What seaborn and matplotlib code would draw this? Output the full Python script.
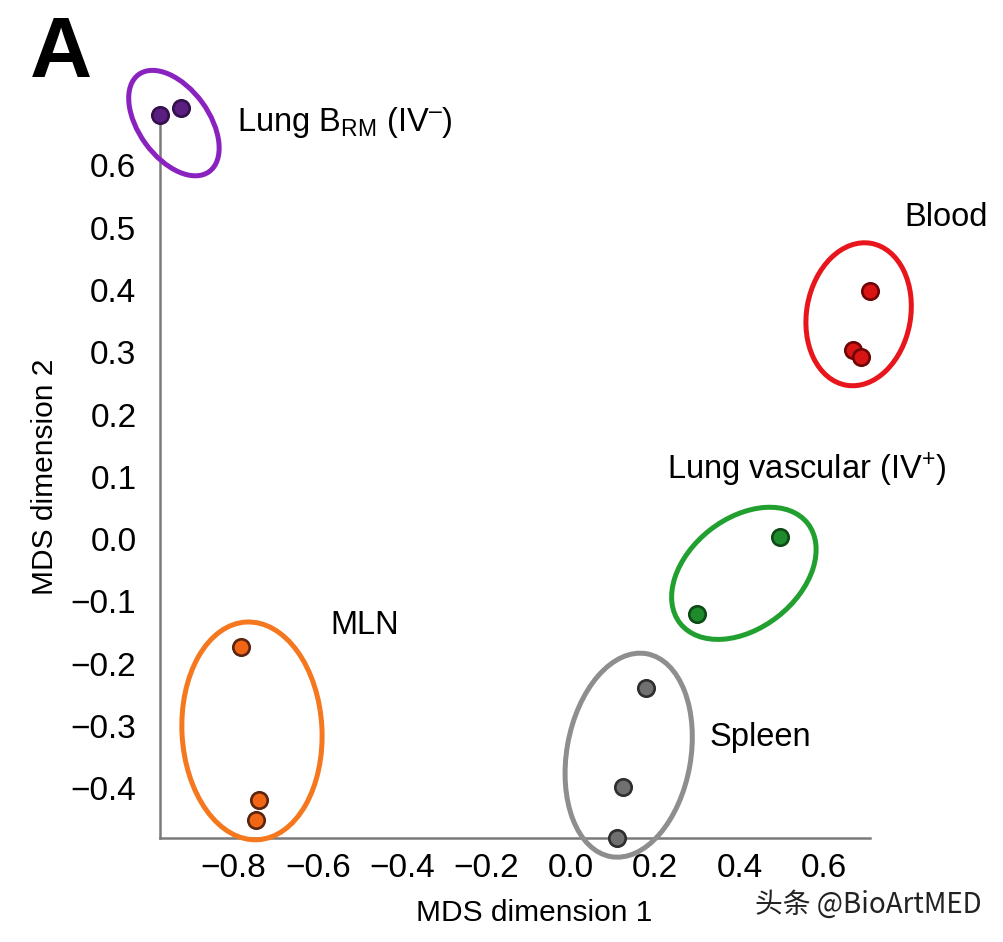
import numpy as np
import pandas as pd
import matplotlib
matplotlib.use("Agg")
import matplotlib.pyplot as plt
import matplotlib.transforms as mtransforms
from matplotlib.patches import Ellipse
import seaborn as sns

# MDS coordinates
groups = ["Lung BRM", "Blood", "Lung vascular", "MLN", "Spleen"]
brm_x = [-0.974, -0.924]
brm_y = [0.681, 0.692]
blood_x = [0.709, 0.668, 0.687]
blood_y = [0.398, 0.303, 0.292]
vasc_x = [0.495, 0.299]
vasc_y = [0.003, -0.120]
mln_x = [-0.782, -0.739, -0.746]
mln_y = [-0.173, -0.419, -0.451]
spleen_x = [0.178, 0.123, 0.109]
spleen_y = [-0.239, -0.398, -0.480]

xticks = [-0.8, -0.6, -0.4, -0.2, 0.0, 0.2, 0.4, 0.6]
yticks = [-0.4, -0.3, -0.2, -0.1, 0.0, 0.1, 0.2, 0.3, 0.4, 0.5, 0.6]

df = pd.DataFrame({
    "x": brm_x + blood_x + vasc_x + mln_x + spleen_x,
    "y": brm_y + blood_y + vasc_y + mln_y + spleen_y,
    "group": ["Lung BRM"] * 2 + ["Blood"] * 3 + ["Lung vascular"] * 2 + ["MLN"] * 3 + ["Spleen"] * 3,
})

fill = {"Lung BRM": "#5b1f80", "Blood": "#d81414", "Lung vascular": "#1f8c2c",
        "MLN": "#f06614", "Spleen": "#707070"}
edge = {"Lung BRM": "#34104d", "Blood": "#6e0505", "Lung vascular": "#0e4a16",
        "MLN": "#5a2410", "Spleen": "#2e2e2e"}
ring = {"Lung BRM": "#8a22c0", "Blood": "#e8161c", "Lung vascular": "#21a030",
        "MLN": "#f5781e", "Spleen": "#8e8e8e"}

# ellipse: centre (data), major / minor (inches), angle (deg on screen)
ell_cx = [-0.941, 0.682, 0.410, -0.756, 0.137]
ell_cy = [0.668, 0.361, -0.055, -0.308, -0.347]
ell_w = [1.20, 1.44, 1.62, 2.18, 2.06]
ell_h = [0.70, 1.04, 1.10, 1.40, 1.24]
ell_ang = [-54, 80, 38, 93, 80]

sns.set_theme(style="white")
plt.rcParams["font.family"] = ["Liberation Sans", "DejaVu Sans"]
plt.rcParams["mathtext.fontset"] = "custom"
plt.rcParams["mathtext.rm"] = "Liberation Sans"
plt.rcParams["mathtext.it"] = "Liberation Sans"
plt.rcParams["text.color"] = "black"
plt.rcParams["xtick.color"] = "black"
plt.rcParams["ytick.color"] = "black"
plt.rcParams["axes.labelcolor"] = "black"

fig = plt.figure(figsize=(10.04, 9.42), dpi=100)
ax = fig.add_axes([160 / 1004, 1 - 838 / 942, 710 / 1004, 728 / 942])

for g in groups:
    sub = df[df["group"] == g]
    sns.scatterplot(data=sub, x="x", y="y", ax=ax, color=fill[g], edgecolor=edge[g],
                    s=140, linewidth=1.9, zorder=4, clip_on=False, legend=False)

for g, cx, cy, w, h, a in zip(groups, ell_cx, ell_cy, ell_w, ell_h, ell_ang):
    tr = fig.dpi_scale_trans + mtransforms.ScaledTranslation(cx, cy, ax.transData)
    e = Ellipse((0, 0), w, h, angle=a, transform=tr, fill=False,
                edgecolor=ring[g], linewidth=3.6, clip_on=False, zorder=3)
    ax.add_patch(e)

ax.set_xlim(-0.974, 0.709)
ax.set_ylim(-0.48, 0.689)
ax.set_xticks(xticks)
ax.set_yticks(yticks)
ax.set_xticklabels([f"{v:.1f}".replace("-", "\u2212") for v in xticks], fontsize=24)
ax.set_yticklabels([f"{v:.1f}".replace("-", "\u2212") for v in yticks], fontsize=24)
ax.tick_params(axis="both", length=0)
ax.tick_params(axis="x", pad=11)
ax.tick_params(axis="y", pad=17)

for s in ["top", "right"]:
    ax.spines[s].set_visible(False)
for s in ["left", "bottom"]:
    ax.spines[s].set_color("#7a7a7a")
    ax.spines[s].set_linewidth(1.8)

ax.set_xlabel("MDS dimension 1", fontsize=21.5)
ax.set_ylabel("MDS dimension 2", fontsize=21.5)
ax.xaxis.set_label_coords(0.527, -0.103)
ax.xaxis.label.set_verticalalignment("center")
ax.yaxis.set_label_coords(-0.162, 0.496)
ax.yaxis.label.set_verticalalignment("center")

lab_fs = 23.5
ax.text(-0.791, 0.669, "Lung B$_{\\mathrm{RM}}$ (IV$^{\u2013}$)", fontsize=lab_fs, va="center", ha="left")
ax.text(0.791, 0.517, "Blood", fontsize=lab_fs, va="center", ha="left", clip_on=False)
ax.text(0.227, 0.111, "Lung vascular (IV$^{+}$)", fontsize=lab_fs, va="center", ha="left", clip_on=False)
ax.text(-0.571, -0.138, "MLN", fontsize=lab_fs, va="center", ha="left")
ax.text(0.329, -0.318, "Spleen", fontsize=lab_fs, va="center", ha="left")

fig.text(30 / 1004, 1 - 55 / 942, "A", fontsize=62, fontweight="bold", va="center", ha="left")
fig.text(755 / 1004, 1 - 905 / 942, "头条 @BioArtMED", fontsize=20, color="#222222",
         va="center", ha="left", family=["Noto Sans CJK SC", "DejaVu Sans"])

fig.savefig("out.png", dpi=100)
